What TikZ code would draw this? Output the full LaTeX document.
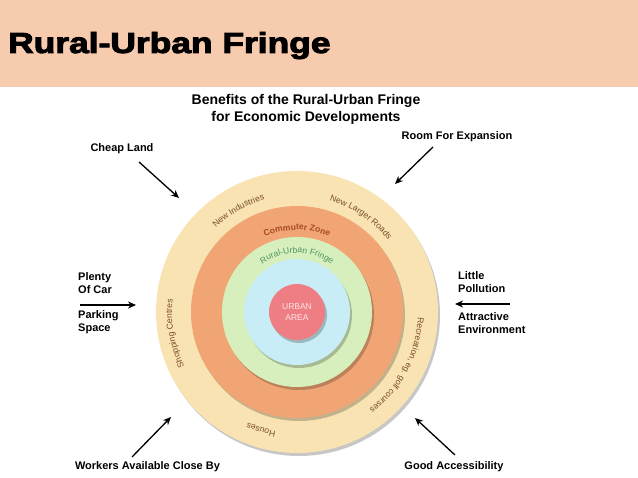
\documentclass[tikz,border=0pt]{standalone}
\usepackage{fontspec}
\setmainfont{Liberation Sans}
\newfontfamily\titlefont{Liberation Sans}[BoldFeatures={FakeBold=3}]
\usetikzlibrary{arrows.meta,decorations.text}
\definecolor{bandpeach}{HTML}{F7CBAE}
\definecolor{ringbeige}{HTML}{F9E3B2}
\definecolor{ringorange}{HTML}{F2A574}
\definecolor{ringgreen}{HTML}{D6EFBC}
\definecolor{ringsky}{HTML}{C9EDF6}
\definecolor{ringpink}{HTML}{EE7E84}
\definecolor{ringbrown}{HTML}{7A4E26}
\definecolor{zonebrown}{HTML}{A8482A}
\definecolor{fringegreen}{HTML}{4F9464}
\definecolor{urbanwhite}{HTML}{FBE6E8}
\newcommand{\ringfont}{\fontsize{8.6}{10}\selectfont}
\tikzset{
  benefit/.style={font=\fontsize{11}{13}\selectfont\bfseries, inner sep=0pt},
  push/.style={-{Stealth[length=8pt,width=7pt]}, line width=1.3pt},
  ringtext/.style n args={3}{decorate, decoration={text along path,
      text align=center, text color=#2, text={|#3|#1}}}
}
\begin{document}
\begin{tikzpicture}[x=1pt, y=1pt]
  \useasboundingbox (0,0) rectangle (638,478);
  \fill[white] (0,0) rectangle (638,478);
  % header band
  \fill[bandpeach] (0,391) rectangle (638,478);
  \node[anchor=base west, inner sep=0pt] (title) at (8,425)
    {\titlefont\bfseries\fontsize{29}{34}\selectfont\scalebox{1.22}[1]{Rural-Urban Fringe}};
  \node[align=center, font=\fontsize{14}{17}\selectfont\bfseries, inner sep=0pt] (subtitle) at (306,368.5)
    {Benefits of the Rural-Urban Fringe\\for Economic Developments};
  % rings around the urban area
  \coordinate (c) at (297,166);
  \begin{scope}[shift={(c)}]
    \foreach \r/\col in {141/ringbeige, 106/ringorange, 75/ringgreen, 53/ringsky, 28/ringpink} {
      \fill[black, opacity=0.22] (2,-3) circle (\r);
      \fill[\col] (0,0) circle (\r);
    }
    % ring labels (clockwise arcs)
    \path[ringtext={New Industries}{ringbrown}{\ringfont}] (155:117) arc[start angle=155, end angle=85, radius=117];
    \path[ringtext={New Larger Roads}{ringbrown}{\ringfont}] (91:116) arc[start angle=91, end angle=21, radius=116];
    \path[ringtext={Recreation, eg. golf courses}{ringbrown}{\ringfont}] (12:121) arc[start angle=12, end angle=-68, radius=121];
    \path[ringtext={Houses}{ringbrown}{\ringfont}] (288:121) arc[start angle=288, end angle=218, radius=121];
    \path[ringtext={Shopping Centres}{ringbrown}{\ringfont}] (225:125) arc[start angle=225, end angle=155, radius=125];
    \path[ringtext={Commuter Zone}{zonebrown}{\ringfont\bfseries}] (130:82) arc[start angle=130, end angle=50, radius=82];
    \path[ringtext={Rural-Urban Fringe}{fringegreen}{\ringfont}] (150:59) arc[start angle=150, end angle=30, radius=59];
  \end{scope}
  \node[align=center, font=\fontsize{8.5}{10.5}\selectfont, text=urbanwhite, inner sep=0pt] (urban) at (c) {URBAN\\AREA};
  % benefits around the circle
  \node[benefit] (cheap) at (122,329.5) {Cheap Land};
  \node[benefit] (room) at (457,341) {Room For Expansion};
  \node[benefit, anchor=west, align=left] (plenty) at (78,194.5) {Plenty\\Of Car};
  \node[benefit, anchor=west, align=left] (parking) at (78,155.5) {Parking\\Space};
  \node[benefit, anchor=west, align=left] (little) at (458,195.5) {Little\\Pollution};
  \node[benefit, anchor=west, align=left] (attractive) at (458,154.7) {Attractive\\Environment};
  \node[benefit] (workers) at (147.5,11) {Workers Available Close By};
  \node[benefit] (good) at (454,11) {Good Accessibility};
  % arrows pointing at the fringe
  \coordinate (cheapTail) at (139,316);   \coordinate (cheapHead) at (179,280);
  \coordinate (roomTail) at (433,331);    \coordinate (roomHead) at (395,294);
  \coordinate (carTail) at (80,173);      \coordinate (carHead) at (136,173);
  \coordinate (airTail) at (510,174);     \coordinate (airHead) at (455,174);
  \coordinate (workTail) at (132,21);     \coordinate (workHead) at (171,61);
  \coordinate (goodTail) at (455,23);     \coordinate (goodHead) at (415,60);
  \foreach \a in {cheap, room, car, air, work, good}
    \draw[push] (\a Tail) -- (\a Head);
\end{tikzpicture}
\end{document}
